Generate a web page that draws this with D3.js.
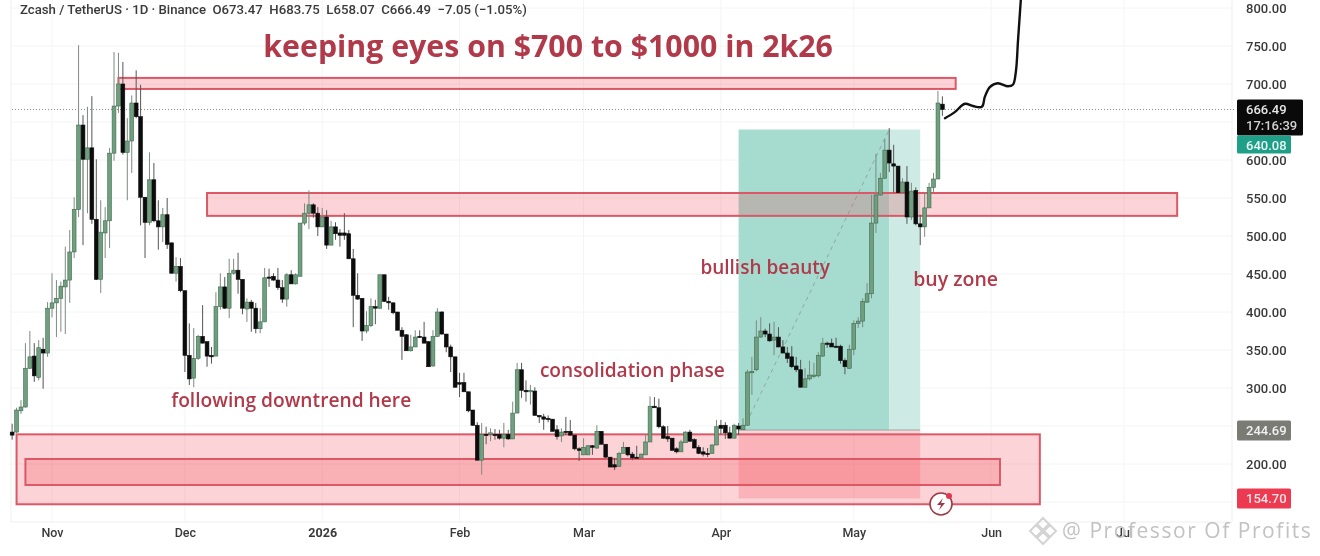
<!DOCTYPE html>
<html>
<head>
<meta charset="utf-8">
<script src="https://cdn.jsdelivr.net/npm/d3@7"></script>
<style>
  html, body { margin: 0; padding: 0; background: #fff; overflow: hidden; }
  svg { display: block; filter: blur(0.45px); }
</style>
</head>
<body>
<svg width="1320" height="556"></svg>
<script>
var opens = [
  242,242,270,275,326,342,314,351,346,405,
  412,418,433,442,479,535,646,601,616,522,
  443,504,520,609,671,700,610,625,675,657,
  551,518,574,520,512,528,491,451,460,428,
  343,313,339,368,361,343,342,407,433,405,
  451,455,443,404,413,405,378,387,446,447,
  442,432,417,449,437,447,517,530,541,530,
  512,525,488,512,504,504,503,470,422,418,
  375,382,407,405,449,414,412,400,376,370,
  349,354,368,367,361,329,368,400,371,354,
  341,307,307,295,271,251,205,239,239,239,
  239,234,239,233,267,324,297,295,296,264,
  262,260,259,245,237,243,243,238,220,212,
  212,224,221,243,226,209,199,197,214,222,
  213,209,208,212,229,276,274,249,236,234,
  220,216,228,242,232,222,216,214,214,225,
  251,251,241,234,250,245,251,320,324,367,
  375,371,363,367,354,346,341,329,324,301,
  312,316,316,342,359,359,355,355,336,326,
  351,385,388,413,424,517,554,576,613,595,
  592,557,571,525,560,516,512,537,564,575,
  673.47];
var highs = [
  253,274,284,359,375,359,363,366,413,451,
  442,440,486,508,551,751,659,670,684,601,
  547,538,616,742,741,729,655,685,718,699,
  551,610,596,547,537,550,491,472,471,428,
  385,379,370,409,361,354,426,451,446,470,
  470,478,443,418,416,412,405,458,457,451,
  458,442,451,455,451,517,543,560,543,538,
  537,534,520,518,509,530,508,483,451,418,
  401,418,416,449,449,420,413,400,380,371,
  370,376,376,387,361,376,405,401,371,357,
  341,320,320,295,271,255,254,249,247,246,
  245,254,245,282,333,333,310,304,301,264,
  266,264,259,251,247,262,258,238,222,234,
  225,225,251,243,226,209,208,216,229,222,
  216,224,214,238,289,288,286,251,250,234,
  222,232,243,245,234,225,222,221,226,258,
  258,255,249,253,254,260,324,341,389,393,
  378,385,387,380,363,354,355,341,337,326,
  336,333,347,366,361,365,366,357,339,357,
  389,393,418,438,554,608,583,628,642,620,
  592,576,592,570,564,528,557,570,583,691,
  683.75];
var lows = [
  232,241,266,274,325,308,310,299,341,393,
  367,374,371,412,471,525,488,530,516,442,
  425,471,484,599,662,607,547,583,655,514,
  471,514,518,482,492,483,451,440,426,321,
  304,301,337,359,328,332,342,403,404,392,
  449,424,397,387,374,372,372,387,433,441,
  429,412,407,437,436,447,514,509,524,500,
  512,483,488,495,486,495,470,380,416,362,
  372,380,384,404,413,403,397,376,337,349,
  348,354,366,359,328,328,367,370,347,321,
  301,288,295,268,250,205,186,226,230,232,
  232,222,232,233,267,287,282,278,264,254,
  245,255,243,232,229,238,237,218,204,212,
  212,212,220,226,208,196,192,196,214,210,
  205,207,208,212,229,274,247,233,229,218,
  214,216,228,229,221,213,210,209,214,225,
  239,233,234,234,238,245,251,291,322,366,
  367,361,343,354,346,333,326,321,301,301,
  310,313,314,341,353,354,353,332,318,325,
  343,379,380,412,418,504,553,576,584,557,
  557,557,516,521,514,488,499,537,558,575,
  658.07];
var closes = [
  238,271,275,326,341,316,353,346,405,412,
  418,434,442,479,535,646,601,616,522,443,
  505,520,609,671,700,610,625,675,657,551,
  518,574,520,512,528,489,451,460,428,343,
  312,339,368,359,342,341,407,433,405,451,
  455,443,405,413,405,378,387,445,445,442,
  432,417,449,437,449,517,530,541,530,512,
  525,488,512,503,501,501,470,422,417,375,
  382,407,405,449,414,412,399,376,368,349,
  354,367,367,359,328,368,400,371,354,341,
  301,305,295,270,251,205,239,238,241,238,
  234,239,233,267,324,297,295,297,264,262,
  259,259,243,236,242,242,238,220,218,222,
  224,222,243,226,209,196,196,214,222,212,
  208,208,213,229,276,274,249,234,233,218,
  216,229,242,230,221,214,213,213,225,249,
  247,241,234,251,246,251,321,322,367,375,
  371,362,367,354,346,339,328,324,301,312,
  317,317,343,359,358,354,354,336,328,351,
  385,388,414,424,517,554,576,613,596,592,
  557,571,525,559,516,512,537,564,575,675,
  666.49];

var priceTicks = [800,750,700,600,550,500,450,400,350,300,200];
var gridPrices = [800,750,700,650,600,550,500,450,400,350,300,250,200,150];
var monthDates = ["2025-11-01","2025-12-01","2026-01-01","2026-02-01","2026-03-01","2026-04-01","2026-05-01","2026-06-01","2026-07-01"];
var monthLabels = ["Nov","Dec","2026","Feb","Mar","Apr","May","Jun","Jul"];

// drawings, dates and prices
var zoneStart = ["2025-11-16","2025-12-06","2025-10-24","2025-10-26"];
var zoneEnd   = ["2026-05-24","2026-07-13","2026-06-12","2026-06-03"];
var zoneTop    = [708,556.6,239,206.6];
var zoneBottom = [693.5,526.5,147,172.4];

var entryPrice = 244.69, targetPrice = 640.08, stopPrice = 154.70, lastPrice = 666.49;
var longStart = "2026-04-05", longHit = "2026-05-09", longEnd = "2026-05-16";

var curveDays = [201.6,203.8,206.1,207.9,209.9,210.6,211.7,213.5,215.8,216.9,217.6,218.1,218.7];
var curvePrices = [655,663,674,671,670,683,696,701,697,699,716,758,811];

var parseDay = d3.timeParse("%Y-%m-%d");
var firstDay = parseDay("2025-10-23");
var nov1 = parseDay("2025-11-01");

var svg = d3.select("svg");

var x = d3.scaleTime()
    .domain([nov1, parseDay("2026-07-01")])
    .range([52, 1124]);

var y = d3.scaleLinear()
    .domain([800, 200])
    .range([8, 464]);

var candles = opens.map(function(o, i) {
  return { date: d3.timeDay.offset(firstDay, i), o: o, h: highs[i], l: lows[i], c: closes[i] };
});

// grid
var grid = svg.append("g");
grid.selectAll(".hgrid").data(gridPrices).enter().append("line")
    .attr("x1", 11).attr("x2", 1232)
    .attr("y1", function(d) { return y(d); })
    .attr("y2", function(d) { return y(d); })
    .attr("stroke", "#f4f4f4");
grid.selectAll(".vgrid").data(monthDates).enter().append("line")
    .attr("x1", function(d) { return x(parseDay(d)); })
    .attr("x2", function(d) { return x(parseDay(d)); })
    .attr("y1", 0).attr("y2", 522)
    .attr("stroke", "#f4f4f4");
svg.append("path").attr("d", "M11,0V522H1232V0").attr("fill", "none").attr("stroke", "#efefef");

// long position tool
svg.append("rect")
    .attr("x", x(parseDay(longStart))).attr("y", y(targetPrice))
    .attr("width", x(parseDay(longHit)) - x(parseDay(longStart)))
    .attr("height", y(entryPrice) - y(targetPrice))
    .attr("fill", "#a6dbd0");
svg.append("rect")
    .attr("x", x(parseDay(longHit))).attr("y", y(targetPrice))
    .attr("width", x(parseDay(longEnd)) - x(parseDay(longHit)))
    .attr("height", y(entryPrice) - y(targetPrice))
    .attr("fill", "#cdebe4");
svg.append("rect")
    .attr("x", x(parseDay(longStart))).attr("y", y(entryPrice))
    .attr("width", x(parseDay(longEnd)) - x(parseDay(longStart)))
    .attr("height", y(stopPrice) - y(entryPrice))
    .attr("fill", "rgba(242,54,69,0.2)");
svg.append("line")
    .attr("x1", x(parseDay(longStart))).attr("x2", x(parseDay(longEnd)))
    .attr("y1", y(entryPrice)).attr("y2", y(entryPrice))
    .attr("stroke", "#9aa5a0");
svg.append("line")
    .attr("x1", x(parseDay("2026-04-06"))).attr("x2", x(parseDay(longHit)))
    .attr("y1", y(entryPrice)).attr("y2", y(targetPrice))
    .attr("stroke", "#8fa8a0")
    .attr("stroke-dasharray", "4 4");

// last price line
svg.append("line")
    .attr("x1", 12).attr("x2", 1236)
    .attr("y1", y(lastPrice)).attr("y2", y(lastPrice))
    .attr("stroke", "#8a8a8a")
    .attr("stroke-dasharray", "1 2");

// red zones
svg.append("g").selectAll("rect").data(zoneStart).enter().append("rect")
    .attr("x", function(d) { return x(parseDay(d)); })
    .attr("width", function(d, i) { return x(parseDay(zoneEnd[i])) - x(parseDay(d)); })
    .attr("y", function(d, i) { return y(zoneTop[i]); })
    .attr("height", function(d, i) { return y(zoneBottom[i]) - y(zoneTop[i]); })
    .attr("fill", "rgba(242,54,69,0.22)")
    .attr("stroke", "#dc5866")
    .attr("stroke-width", 2);

// candles
var candle = svg.append("g").selectAll("g").data(candles).enter().append("g");
candle.append("line")
    .attr("x1", function(d) { return x(d.date); })
    .attr("x2", function(d) { return x(d.date); })
    .attr("y1", function(d) { return y(d.h); })
    .attr("y2", function(d) { return y(d.l); })
    .attr("stroke", function(d) { return d.c >= d.o ? "#7d8a80" : "#555"; })
    .attr("stroke-width", 1);
candle.append("rect")
    .attr("x", function(d) { return x(d.date) - 1.9; })
    .attr("width", 3.8)
    .attr("y", function(d) { return y(Math.max(d.o, d.c)); })
    .attr("height", function(d) { return Math.max(1.2, Math.abs(y(d.o) - y(d.c))); })
    .attr("fill", function(d) { return d.c >= d.o ? "#6f9f7e" : "#0c0c0c"; })
    .attr("stroke", function(d) { return d.c >= d.o ? "#3f6a4e" : "#0c0c0c"; })
    .attr("stroke-width", 0.6);

// freehand projection
var projection = d3.line()
    .x(function(d) { return x(d3.timeHour.offset(nov1, Math.round(d * 24))); })
    .y(function(d, i) { return y(curvePrices[i]); })
    .curve(d3.curveCatmullRom);
svg.append("path")
    .attr("d", projection(curveDays))
    .attr("fill", "none")
    .attr("stroke", "#111")
    .attr("stroke-width", 2.4)
    .attr("stroke-linecap", "round");

// axes
var yAxis = svg.append("g")
    .attr("transform", "translate(1236,0)")
    .call(d3.axisRight(y).tickValues(priceTicks).tickSize(0).tickPadding(10)
      .tickFormat(function(d) { return d3.format(".2f")(d); }));
yAxis.select(".domain").remove();
yAxis.selectAll("text").style("font", "500 13px Roboto").attr("fill", "#3a3a3a");

var xAxis = svg.append("g")
    .attr("transform", "translate(0,522)")
    .call(d3.axisBottom(x).tickValues(monthDates.map(parseDay)).tickSize(0).tickPadding(6)
      .tickFormat(function(d, i) { return monthLabels[i]; }));
xAxis.select(".domain").remove();
xAxis.selectAll("text").style("font", "500 12.5px Roboto").attr("fill", "#3a3a3a");
xAxis.selectAll("text").filter(function(d, i) { return monthLabels[i] == "2026"; }).style("font-weight", "700");

// price tags
function priceTag(top, w, h, color) {
  svg.append("rect").attr("x", 1237).attr("y", top).attr("width", w).attr("height", h)
      .attr("rx", 1.5).attr("fill", color);
}
function tagText(txt, top, color) {
  svg.append("text").attr("x", 1246).attr("y", top).text(txt)
      .attr("fill", color).style("font", "500 13px Roboto");
}
priceTag(y(lastPrice) - 10, 66, 36, "#0a0a0a");
tagText("666.49", y(lastPrice) + 5, "#e6e6e6");
tagText("17:16:39", y(lastPrice) + 21, "#d0d0d0");
// the target tag is pushed down under the black tag
priceTag(y(targetPrice) + 6, 54, 18, "#1f9e88");
tagText("640.08", y(targetPrice) + 20, "#e9f7f3");
priceTag(y(entryPrice) - 9.5, 54, 20, "#7b7b76");
tagText("244.69", y(entryPrice) + 5, "#f0f0f0");
priceTag(y(stopPrice) - 10, 54, 20, "#ec3a50");
tagText("154.70", y(stopPrice) + 5, "#fbe3e6");

// header
svg.append("text").attr("x", 20).attr("y", 14)
    .text("Zcash / TetherUS \u00b7 1D \u00b7 Binance  O673.47  H683.75  L658.07  C666.49  \u22127.05 (\u22121.05%)")
    .attr("fill", "#3a3a3a")
    .style("white-space", "pre")
    .style("font", "500 13.2px Roboto");

// notes
var noteTexts = ["keeping eyes on $700 to $1000 in 2k26","bullish beauty","buy zone","consolidation phase","following downtrend here"];
var noteDays = ["2026-02-21","2026-04-11","2026-05-24","2026-03-12","2025-12-25"];
var notePrices = [735,450,434,314,275];
var noteSizes = [30.3,19,19.5,19.1,19.2];
var noteWeights = [700,600,600,600,600];
svg.append("g").selectAll("text").data(noteTexts).enter().append("text")
    .attr("x", function(d, i) { return x(parseDay(noteDays[i])); })
    .attr("y", function(d, i) { return y(notePrices[i]); })
    .attr("text-anchor", "middle")
    .attr("fill", "#b03a4a")
    .style("font-family", "'Open Sans'")
    .style("font-weight", function(d, i) { return noteWeights[i]; })
    .style("font-size", function(d, i) { return noteSizes[i] + "px"; })
    .text(function(d) { return d; });

// news icon
var icon = svg.append("g").attr("transform", "translate(941,504)");
icon.append("circle").attr("r", 11).attr("fill", "#fff").attr("stroke", "#9c3b47").attr("stroke-width", 1.6);
icon.append("path").attr("d", "M2,-6L-4,1H0L-2,6L4,-1H0Z").attr("fill", "#9c3b47");
icon.append("circle").attr("cx", 8).attr("cy", -8).attr("r", 3).attr("fill", "#e0394f");

// watermark
var mark = svg.append("g").attr("transform", "translate(1043,531)").attr("fill", "none").attr("stroke", "#d4d4d4").attr("stroke-width", 2);
mark.append("path").attr("d", "M0,-13L6,-7L0,-1L-6,-7ZM0,13L6,7L0,1L-6,7ZM-13,0L-7,-6L-1,0L-7,6ZM13,0L7,-6L1,0L7,6Z");
svg.append("text").attr("x", 1062).attr("y", 538)
    .text("@ Professor Of Profits")
    .attr("fill", "#c2c2c2")
    .style("font", "400 21px 'Open Sans'")
    .style("letter-spacing", "1.55px");
</script>
</body>
</html>
